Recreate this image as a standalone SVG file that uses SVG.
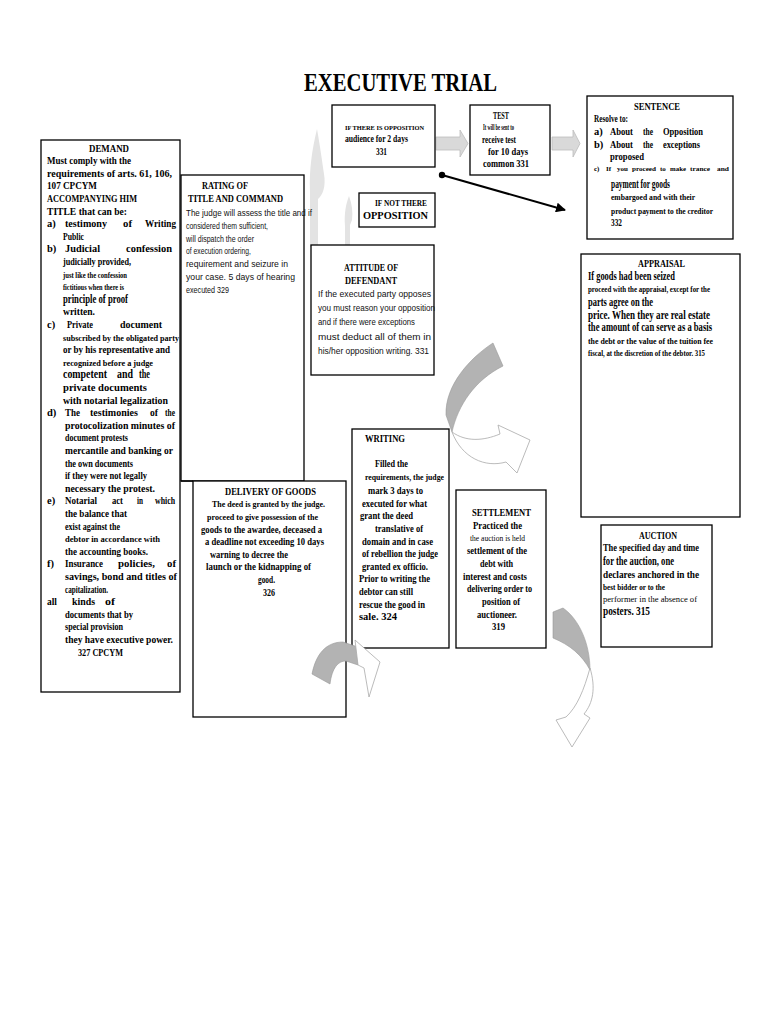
<svg xmlns="http://www.w3.org/2000/svg" width="768" height="1024" viewBox="0 0 768 1024">
<defs>
<style>
.box{fill:#fff;stroke:#000;stroke-width:1.3}
.t{font-family:"Liberation Serif","Times New Roman",serif;font-weight:bold;font-size:10.5px;fill:#000}
.sm{font-size:7.5px}
.md{font-size:9px}
.lg{font-size:11.5px}
.a{font-family:"Liberation Sans",Arial,sans-serif;font-size:9.5px;fill:#111}
.blk{fill:#d9d9d9;stroke:#bdbdbd;stroke-width:0.8}
.gr{fill:#b3b3b3;stroke:#999;stroke-width:0.6}
.wh{fill:#fff;stroke:#aaa;stroke-width:0.8}
.fl{fill:#e3e3e3}
</style>
<marker id="ah" viewBox="0 0 10 10" refX="9" refY="5" markerWidth="5" markerHeight="5" orient="auto"><path d="M0,0 L10,5 L0,10 Z" fill="#000"/></marker>
</defs>
<rect width="768" height="1024" fill="#fff"/>

<text class="t" x="304" y="91" textLength="193" lengthAdjust="spacingAndGlyphs" style="font-size:25px">EXECUTIVE TRIAL</text>

<g id="connectors">
<path class="fl" d="M310,247 L310,192 C309,170 312,150 317,129 C320,146 322,160 324,174 C326,186 323,195 318,199 L318,247 Z"/>
<path class="fl" d="M345,247 L345,226 C344,213 346,204 349,196 C352,204 353,212 352,220 L350,225 L350,247 Z"/>
<path class="blk" d="M436,137 L460,137 L460,130 L468,143.5 L460,157 L460,150 L436,150 Z"/>
<path class="blk" d="M552,137 L573,137 L573,130 L580,143.5 L573,157 L573,150 L552,150 Z"/>
<circle cx="442" cy="175" r="3.2" fill="#000"/>
<line x1="442" y1="175" x2="565" y2="210" stroke="#000" stroke-width="2" marker-end="url(#ah)"/>
<path class="gr" d="M493,343 C470,358 445,385 446,415 L452,432 C458,405 475,380 503,366 Z"/>
<path class="wh" d="M452,432 C466,442 483,441 500,434 L498,425 L530,440 L517,473 L506,462 C485,468 462,458 452,432 Z"/>
<path class="gr" d="M553,612 L563,608 C580,620 590,645 590,670 C582,655 570,645 553,638 Z"/>
<path class="wh" d="M590,668 C596,688 593,703 584,714 L590,718 L572,747 L556,720 L566,717 C577,707 584,690 590,668 Z"/>
</g>

<g id="demand">
<rect class="box" x="41" y="140" width="139" height="552"/>
<text class="t" x="89" y="151.5" textLength="40" lengthAdjust="spacingAndGlyphs">DEMAND</text>
<text class="t" x="47" y="164.1" textLength="84" lengthAdjust="spacingAndGlyphs">Must comply with the</text>
<text class="t" x="47" y="176.7" textLength="125" lengthAdjust="spacingAndGlyphs">requirements of arts. 61, 106,</text>
<text class="t" x="47" y="189.3" textLength="50" lengthAdjust="spacingAndGlyphs">107 CPCYM</text>
<text class="t" x="47" y="201.9" textLength="90" lengthAdjust="spacingAndGlyphs">ACCOMPANYING HIM</text>
<text class="t" x="47" y="214.5" textLength="80" lengthAdjust="spacingAndGlyphs">TITLE that can be:</text>
<text class="t" x="47" y="227.1">a)</text>
<text class="t" x="65" y="227.1" textLength="42" lengthAdjust="spacingAndGlyphs">testimony</text>
<text class="t" x="123" y="227.1" textLength="9" lengthAdjust="spacingAndGlyphs">of</text>
<text class="t" x="145" y="227.1" textLength="31" lengthAdjust="spacingAndGlyphs">Writing</text>
<text class="t" x="63" y="239.7" textLength="21" lengthAdjust="spacingAndGlyphs">Public</text>
<text class="t" x="47" y="252.3">b)</text>
<text class="t" x="65" y="252.3" textLength="35" lengthAdjust="spacingAndGlyphs">Judicial</text>
<text class="t" x="126" y="252.3" textLength="46" lengthAdjust="spacingAndGlyphs">confession</text>
<text class="t" x="63" y="264.9" textLength="68" lengthAdjust="spacingAndGlyphs">judicially provided,</text>
<text class="t md" x="63" y="277.5" textLength="64" lengthAdjust="spacingAndGlyphs">just like the confession</text>
<text class="t md" x="63" y="290.1" textLength="61" lengthAdjust="spacingAndGlyphs">fictitious when there is</text>
<text class="t lg" x="63" y="302.7" textLength="65" lengthAdjust="spacingAndGlyphs">principle of proof</text>
<text class="t" x="63" y="315.3" textLength="32" lengthAdjust="spacingAndGlyphs">written.</text>
<text class="t" x="47" y="327.9">c)</text>
<text class="t" x="67" y="327.9" textLength="26" lengthAdjust="spacingAndGlyphs">Private</text>
<text class="t" x="120" y="327.9" textLength="42" lengthAdjust="spacingAndGlyphs">document</text>
<text class="t sm" x="63" y="340.5" textLength="116" lengthAdjust="spacingAndGlyphs">subscribed by the obligated party</text>
<text class="t" x="63" y="353.1" textLength="107" lengthAdjust="spacingAndGlyphs">or by his representative and</text>
<text class="t md" x="63" y="365.7" textLength="90" lengthAdjust="spacingAndGlyphs">recognized before a judge</text>
<text class="t lg" x="63" y="378.3" textLength="44" lengthAdjust="spacingAndGlyphs">competent</text>
<text class="t lg" x="117" y="378.3" textLength="16" lengthAdjust="spacingAndGlyphs">and</text>
<text class="t lg" x="139" y="378.3" textLength="11" lengthAdjust="spacingAndGlyphs">the</text>
<text class="t" x="63" y="390.9" textLength="84" lengthAdjust="spacingAndGlyphs">private documents</text>
<text class="t" x="63" y="403.5" textLength="105" lengthAdjust="spacingAndGlyphs">with notarial legalization</text>
<text class="t" x="47" y="416.1">d)</text>
<text class="t" x="65" y="416.1" textLength="15" lengthAdjust="spacingAndGlyphs">The</text>
<text class="t" x="90" y="416.1" textLength="48" lengthAdjust="spacingAndGlyphs">testimonies</text>
<text class="t" x="150" y="416.1" textLength="8" lengthAdjust="spacingAndGlyphs">of</text>
<text class="t" x="165" y="416.1" textLength="10" lengthAdjust="spacingAndGlyphs">the</text>
<text class="t" x="65" y="428.7" textLength="110" lengthAdjust="spacingAndGlyphs">protocolization minutes of</text>
<text class="t" x="65" y="441.3" textLength="63" lengthAdjust="spacingAndGlyphs">document protests</text>
<text class="t" x="65" y="453.9" textLength="108" lengthAdjust="spacingAndGlyphs">mercantile and banking or</text>
<text class="t" x="65" y="466.5" textLength="68" lengthAdjust="spacingAndGlyphs">the own documents</text>
<text class="t" x="65" y="479.1" textLength="82" lengthAdjust="spacingAndGlyphs">if they were not legally</text>
<text class="t" x="65" y="491.7" textLength="90" lengthAdjust="spacingAndGlyphs">necessary the protest.</text>
<text class="t" x="47" y="504.3">e)</text>
<text class="t" x="65" y="504.3" textLength="32" lengthAdjust="spacingAndGlyphs">Notarial</text>
<text class="t" x="112" y="504.3" textLength="11" lengthAdjust="spacingAndGlyphs">act</text>
<text class="t" x="137" y="504.3" textLength="6" lengthAdjust="spacingAndGlyphs">in</text>
<text class="t" x="155" y="504.3" textLength="20" lengthAdjust="spacingAndGlyphs">which</text>
<text class="t" x="65" y="516.9" textLength="62" lengthAdjust="spacingAndGlyphs">the balance that</text>
<text class="t" x="65" y="529.5" textLength="55" lengthAdjust="spacingAndGlyphs">exist against the</text>
<text class="t md" x="65" y="542.1" textLength="95" lengthAdjust="spacingAndGlyphs">debtor in accordance with</text>
<text class="t" x="65" y="554.7" textLength="83" lengthAdjust="spacingAndGlyphs">the accounting books.</text>
<text class="t" x="47" y="567.3">f)</text>
<text class="t" x="65" y="567.3" textLength="38" lengthAdjust="spacingAndGlyphs">Insurance</text>
<text class="t" x="118" y="567.3" textLength="37" lengthAdjust="spacingAndGlyphs">policies,</text>
<text class="t" x="167" y="567.3" textLength="9" lengthAdjust="spacingAndGlyphs">of</text>
<text class="t" x="65" y="579.9" textLength="112" lengthAdjust="spacingAndGlyphs">savings, bond and titles of</text>
<text class="t" x="65" y="592.5" textLength="43" lengthAdjust="spacingAndGlyphs">capitalization.</text>
<text class="t" x="47" y="605.1" textLength="10" lengthAdjust="spacingAndGlyphs">all</text>
<text class="t" x="72" y="605.1" textLength="23" lengthAdjust="spacingAndGlyphs">kinds</text>
<text class="t" x="105" y="605.1" textLength="10" lengthAdjust="spacingAndGlyphs">of</text>
<text class="t" x="65" y="617.7" textLength="68" lengthAdjust="spacingAndGlyphs">documents that by</text>
<text class="t" x="65" y="630.3" textLength="58" lengthAdjust="spacingAndGlyphs">special provision</text>
<text class="t" x="65" y="642.9" textLength="108" lengthAdjust="spacingAndGlyphs">they have executive power.</text>
<text class="t" x="78" y="655.5" textLength="45" lengthAdjust="spacingAndGlyphs">327 CPCYM</text>
</g>

<g id="rating">
<rect class="box" x="181" y="175" width="123" height="306"/>
<text class="t" x="202" y="189" textLength="46" lengthAdjust="spacingAndGlyphs">RATING OF</text>
<text class="t" x="188" y="202" textLength="95" lengthAdjust="spacingAndGlyphs">TITLE AND COMMAND</text>
<text class="a" x="186" y="216" textLength="126" lengthAdjust="spacingAndGlyphs">The judge will assess the title and if</text>
<text class="a" x="186" y="229" textLength="82" lengthAdjust="spacingAndGlyphs">considered them sufficient,</text>
<text class="a" x="186" y="242" textLength="68" lengthAdjust="spacingAndGlyphs">will dispatch the order</text>
<text class="a" x="186" y="254" textLength="65" lengthAdjust="spacingAndGlyphs">of execution ordering,</text>
<text class="a" x="186" y="267" textLength="102" lengthAdjust="spacingAndGlyphs">requirement and seizure in</text>
<text class="a" x="186" y="280" textLength="109" lengthAdjust="spacingAndGlyphs">your case. 5 days of hearing</text>
<text class="a" x="186" y="293" textLength="43" lengthAdjust="spacingAndGlyphs">executed 329</text>
</g>

<g id="opposition">
<rect class="box" x="332" y="105" width="103" height="62"/>
<text class="t" x="345" y="130" textLength="79" lengthAdjust="spacingAndGlyphs" style="font-size:7px">IF THERE IS OPPOSITION</text>
<text class="t" x="345" y="142" textLength="63" lengthAdjust="spacingAndGlyphs">audience for 2 days</text>
<text class="t" x="376" y="155" textLength="11" lengthAdjust="spacingAndGlyphs">331</text>
</g>

<g id="test">
<rect class="box" x="470" y="105" width="80" height="70"/>
<text class="t" x="493" y="119" textLength="16" lengthAdjust="spacingAndGlyphs">TEST</text>
<text class="t sm" x="483" y="130" textLength="31" lengthAdjust="spacingAndGlyphs">It will be sent to</text>
<text class="t" x="482" y="143" textLength="34" lengthAdjust="spacingAndGlyphs">receive test</text>
<text class="t" x="488" y="155" textLength="40" lengthAdjust="spacingAndGlyphs">for 10 days</text>
<text class="t" x="483" y="167" textLength="46" lengthAdjust="spacingAndGlyphs">common 331</text>
</g>

<g id="no-opposition">
<rect class="box" x="359" y="193" width="76" height="34"/>
<text class="t md" x="375" y="206" textLength="52" lengthAdjust="spacingAndGlyphs">IF NOT THERE</text>
<text class="t" x="363" y="219" textLength="65" lengthAdjust="spacingAndGlyphs">OPPOSITION</text>
</g>

<g id="sentence">
<rect class="box" x="587" y="96" width="146" height="143"/>
<text class="t" x="634" y="110" textLength="46" lengthAdjust="spacingAndGlyphs">SENTENCE</text>
<text class="t" x="594" y="122" textLength="34" lengthAdjust="spacingAndGlyphs">Resolve to:</text>
<text class="t" x="594" y="135">a)</text>
<text class="t" x="610" y="135" textLength="23" lengthAdjust="spacingAndGlyphs">About</text>
<text class="t" x="643" y="135" textLength="10" lengthAdjust="spacingAndGlyphs">the</text>
<text class="t" x="663" y="135" textLength="40" lengthAdjust="spacingAndGlyphs">Opposition</text>
<text class="t" x="594" y="148">b)</text>
<text class="t" x="610" y="148" textLength="23" lengthAdjust="spacingAndGlyphs">About</text>
<text class="t" x="643" y="148" textLength="10" lengthAdjust="spacingAndGlyphs">the</text>
<text class="t" x="663" y="148" textLength="37" lengthAdjust="spacingAndGlyphs">exceptions</text>
<text class="t" x="610" y="160" textLength="34" lengthAdjust="spacingAndGlyphs">proposed</text>
<g class="t" style="font-size:7px">
<text x="594" y="171">c)</text><text x="606" y="171">If</text><text x="617" y="171">you</text><text x="632" y="171" textLength="24" lengthAdjust="spacingAndGlyphs">proceed</text><text x="660" y="171">to</text><text x="670" y="171" textLength="16" lengthAdjust="spacingAndGlyphs">make</text><text x="690" y="171" textLength="20" lengthAdjust="spacingAndGlyphs">trance</text><text x="717" y="171" textLength="12" lengthAdjust="spacingAndGlyphs">and</text>
</g>
<text class="t lg" x="611" y="188" textLength="59" lengthAdjust="spacingAndGlyphs">payment for goods</text>
<text class="t md" x="611" y="200" textLength="84" lengthAdjust="spacingAndGlyphs">embargoed and with their</text>
<text class="t md" x="611" y="214" textLength="102" lengthAdjust="spacingAndGlyphs">product payment to the creditor</text>
<text class="t" x="611" y="226" textLength="11" lengthAdjust="spacingAndGlyphs">332</text>
</g>

<g id="attitude">
<rect class="box" x="311" y="245" width="123" height="130"/>
<text class="t" x="344" y="271" textLength="54" lengthAdjust="spacingAndGlyphs">ATTITUDE OF</text>
<text class="t" x="345" y="284" textLength="52" lengthAdjust="spacingAndGlyphs">DEFENDANT</text>
<text class="a" x="318" y="297" textLength="113" lengthAdjust="spacingAndGlyphs">If the executed party opposes</text>
<text class="a" x="318" y="311" textLength="117" lengthAdjust="spacingAndGlyphs">you must reason your opposition</text>
<text class="a" x="318" y="325" textLength="97" lengthAdjust="spacingAndGlyphs">and if there were exceptions</text>
<text class="a" x="318" y="340" textLength="113" lengthAdjust="spacingAndGlyphs">must deduct all of them in</text>
<text class="a" x="318" y="354" textLength="111" lengthAdjust="spacingAndGlyphs">his/her opposition writing. 331</text>
</g>

<g id="appraisal">
<rect class="box" x="581" y="254" width="159" height="263"/>
<text class="t" x="638" y="267" textLength="47" lengthAdjust="spacingAndGlyphs">APPRAISAL</text>
<text class="t lg" x="588" y="280" textLength="87" lengthAdjust="spacingAndGlyphs">If goods had been seized</text>
<text class="t sm" x="588" y="292" textLength="122" lengthAdjust="spacingAndGlyphs">proceed with the appraisal, except for the</text>
<text class="t lg" x="588" y="306" textLength="65" lengthAdjust="spacingAndGlyphs">parts agree on the</text>
<text class="t lg" x="588" y="319" textLength="122" lengthAdjust="spacingAndGlyphs">price. When they are real estate</text>
<text class="t lg" x="588" y="331" textLength="124" lengthAdjust="spacingAndGlyphs">the amount of can serve as a basis</text>
<text class="t md" x="588" y="344" textLength="125" lengthAdjust="spacingAndGlyphs">the debt or the value of the tuition fee</text>
<text class="t sm" x="588" y="356" textLength="117" lengthAdjust="spacingAndGlyphs">fiscal, at the discretion of the debtor. 315</text>
</g>

<g id="writing">
<rect class="box" x="352" y="429" width="97" height="219"/>
<text class="t" x="365" y="442" textLength="40" lengthAdjust="spacingAndGlyphs">WRITING</text>
<text class="t" x="375" y="467" textLength="33" lengthAdjust="spacingAndGlyphs">Filled the</text>
<text class="t md" x="365" y="480" textLength="79" lengthAdjust="spacingAndGlyphs">requirements, the judge</text>
<text class="t" x="368" y="494" textLength="55" lengthAdjust="spacingAndGlyphs">mark 3 days to</text>
<text class="t" x="362" y="507" textLength="65" lengthAdjust="spacingAndGlyphs">executed for what</text>
<text class="t" x="360" y="519" textLength="53" lengthAdjust="spacingAndGlyphs">grant the deed</text>
<text class="t" x="375" y="532" textLength="48" lengthAdjust="spacingAndGlyphs">translative of</text>
<text class="t" x="362" y="545" textLength="71" lengthAdjust="spacingAndGlyphs">domain and in case</text>
<text class="t" x="362" y="557" textLength="76" lengthAdjust="spacingAndGlyphs">of rebellion the judge</text>
<text class="t" x="362" y="570" textLength="66" lengthAdjust="spacingAndGlyphs">granted ex officio.</text>
<text class="t" x="359" y="582" textLength="71" lengthAdjust="spacingAndGlyphs">Prior to writing the</text>
<text class="t" x="359" y="595" textLength="54" lengthAdjust="spacingAndGlyphs">debtor can still</text>
<text class="t" x="359" y="608" textLength="66" lengthAdjust="spacingAndGlyphs">rescue the good in</text>
<text class="t" x="359" y="620" textLength="38" lengthAdjust="spacingAndGlyphs">sale. 324</text>
</g>

<g id="settlement">
<rect class="box" x="456" y="490" width="90" height="158"/>
<text class="t" x="472" y="516" textLength="59" lengthAdjust="spacingAndGlyphs">SETTLEMENT</text>
<text class="t" x="473" y="529" textLength="49" lengthAdjust="spacingAndGlyphs">Practiced the</text>
<text class="t sm" x="470" y="541" textLength="55" lengthAdjust="spacingAndGlyphs" style="font-weight:normal">the auction is held</text>
<text class="t" x="467" y="554" textLength="60" lengthAdjust="spacingAndGlyphs">settlement of the</text>
<text class="t" x="480" y="567" textLength="33" lengthAdjust="spacingAndGlyphs">debt with</text>
<text class="t" x="463" y="580" textLength="64" lengthAdjust="spacingAndGlyphs">interest and costs</text>
<text class="t" x="467" y="592" textLength="65" lengthAdjust="spacingAndGlyphs">delivering order to</text>
<text class="t" x="482" y="605" textLength="38" lengthAdjust="spacingAndGlyphs">position of</text>
<text class="t" x="477" y="618" textLength="40" lengthAdjust="spacingAndGlyphs">auctioneer.</text>
<text class="t" x="492" y="630" textLength="13" lengthAdjust="spacingAndGlyphs">319</text>
</g>

<g id="delivery">
<rect class="box" x="193" y="481" width="153" height="236"/>
<line x1="181" y1="481" x2="193" y2="481" stroke="#000" stroke-width="1.3"/>
<text class="t" x="225" y="495" textLength="91" lengthAdjust="spacingAndGlyphs">DELIVERY OF GOODS</text>
<text class="t md" x="212" y="507" textLength="113" lengthAdjust="spacingAndGlyphs">The deed is granted by the judge.</text>
<text class="t md" x="207" y="520" textLength="111" lengthAdjust="spacingAndGlyphs">proceed to give possession of the</text>
<text class="t" x="201" y="533" textLength="121" lengthAdjust="spacingAndGlyphs">goods to the awardee, deceased a</text>
<text class="t" x="205" y="545" textLength="119" lengthAdjust="spacingAndGlyphs">a deadline not exceeding 10 days</text>
<text class="t" x="210" y="558" textLength="78" lengthAdjust="spacingAndGlyphs">warning to decree the</text>
<text class="t" x="206" y="570" textLength="105" lengthAdjust="spacingAndGlyphs">launch or the kidnapping of</text>
<text class="t" x="258" y="583" textLength="17" lengthAdjust="spacingAndGlyphs">good.</text>
<text class="t" x="263" y="596" textLength="12" lengthAdjust="spacingAndGlyphs">326</text>
</g>

<g id="auction">
<rect class="box" x="601" y="525" width="111" height="122"/>
<text class="t" x="639" y="539" textLength="38" lengthAdjust="spacingAndGlyphs">AUCTION</text>
<text class="t" x="603" y="551" textLength="96" lengthAdjust="spacingAndGlyphs">The specified day and time</text>
<text class="t lg" x="603" y="565" textLength="71" lengthAdjust="spacingAndGlyphs">for the auction, one</text>
<text class="t" x="603" y="578" textLength="96" lengthAdjust="spacingAndGlyphs">declares anchored in the</text>
<text class="t md" x="603" y="590" textLength="62" lengthAdjust="spacingAndGlyphs">best bidder or to the</text>
<text class="t sm" x="603" y="602" textLength="94" lengthAdjust="spacingAndGlyphs" style="font-weight:normal">performer in the absence of</text>
<text class="t lg" x="603" y="615" textLength="47" lengthAdjust="spacingAndGlyphs">posters. 315</text>
</g>

<g id="connectors-front">
<path class="gr" d="M312,674 C316,654 326,642 343,642 L358,647 L358,665 L346,661 C338,661 332,668 330,684 Z"/>
<path class="wh" d="M355,640 L380,662 L369,697 L364,668 L358,665 Z"/>
</g>
</svg>
